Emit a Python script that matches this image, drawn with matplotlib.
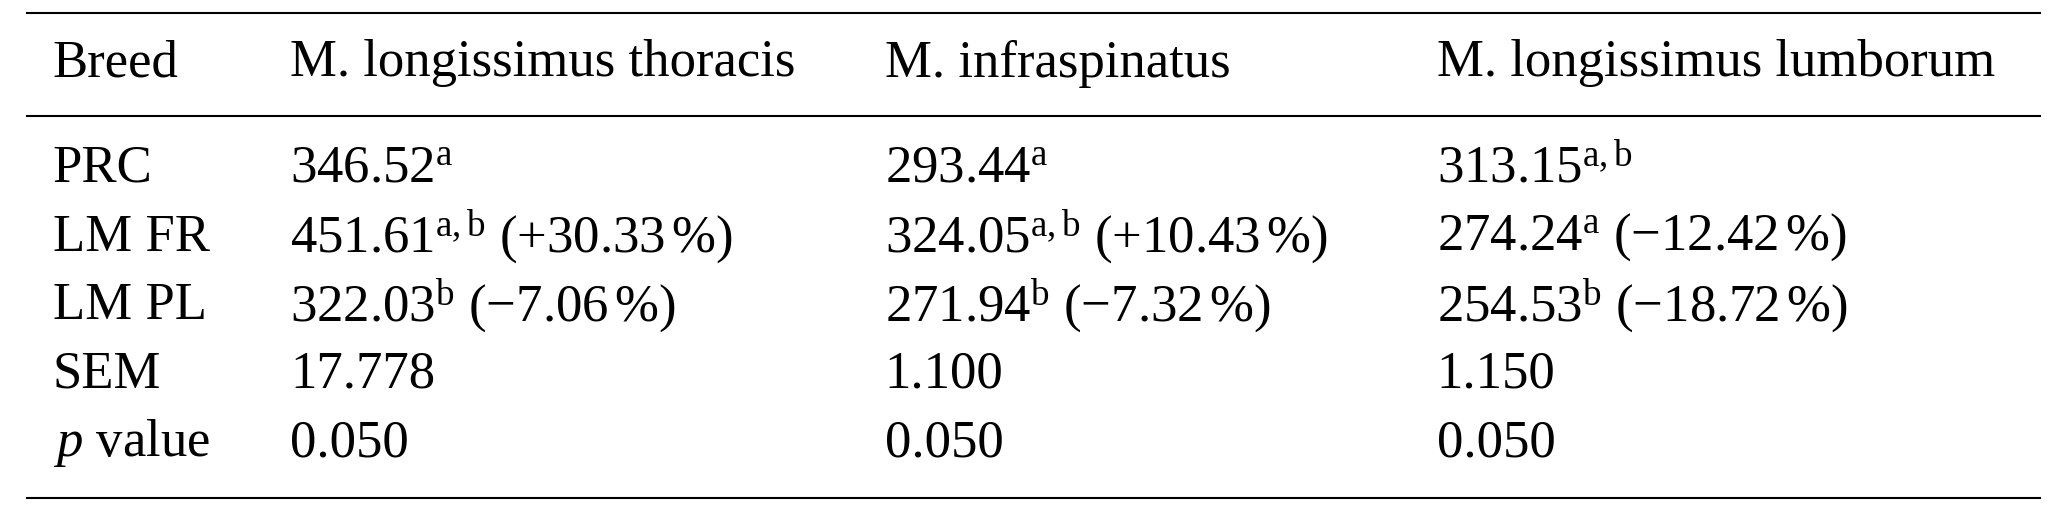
import matplotlib
matplotlib.use("Agg")
import matplotlib.pyplot as plt

plt.rcParams['font.family'] = ['Liberation Serif', 'DejaVu Serif']
plt.rcParams['mathtext.fontset'] = 'custom'
plt.rcParams['mathtext.rm'] = 'Liberation Serif'
plt.rcParams['mathtext.it'] = 'Liberation Serif:italic'

header = ["Breed", "M. longissimus thoracis", "M. infraspinatus", "M. longissimus lumborum"]
breeds = ["PRC", "LM FR", "LM PL", "SEM", r"$\mathit{p}$ value"]
col_thoracis = [r"346.52$^{\mathrm{a}}$",
                r"451.61$^{\mathrm{a,b}}$ (+30.33$\,$%)",
                r"322.03$^{\mathrm{b}}$ (−7.06$\,$%)",
                "17.778", "0.050"]
col_infra = [r"293.44$^{\mathrm{a}}$",
             r"324.05$^{\mathrm{a,b}}$ (+10.43$\,$%)",
             r"271.94$^{\mathrm{b}}$ (−7.32$\,$%)",
             "1.100", "0.050"]
col_lumborum = [r"313.15$^{\mathrm{a,b}}$",
                r"274.24$^{\mathrm{a}}$ (−12.42$\,$%)",
                r"254.53$^{\mathrm{b}}$ (−18.72$\,$%)",
                "1.150", "0.050"]

fig = plt.figure(figsize=(20.67, 5.12), dpi=100)
ax = fig.add_axes([0, 0, 1, 1])
ax.set_xlim(0, 1)
ax.set_ylim(1, 0)
ax.axis("off")

xs = [0.0255, 0.1405, 0.428, 0.695]
fs = 38
for x, h in zip(xs, header):
    ax.text(x, 0.124, h, fontsize=fs, va="center", ha="left")

row_y = [0.330, 0.464, 0.598, 0.732, 0.866]
cols = [breeds, col_thoracis, col_infra, col_lumborum]
for x, col in zip(xs, cols):
    for y, t in zip(row_y, col):
        ax.text(x, y, t, fontsize=fs, va="center", ha="left")

for y, lw in [(0.026, 1.5), (0.227, 1.5), (0.972, 1.5)]:
    ax.plot([0.013, 0.987], [y, y], color="black", lw=lw)

fig.savefig("out.png", dpi=100)
